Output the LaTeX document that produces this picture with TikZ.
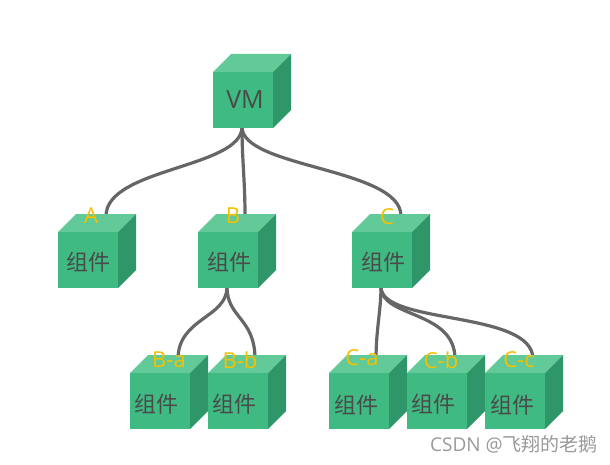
\documentclass[tikz,border=0pt]{standalone}
\usepackage{fontspec}
\setmainfont{Open Sans}
\newfontfamily\cjk{Noto Sans CJK SC}
\definecolor{cfront}{HTML}{3FBA83}
\definecolor{ctop}{HTML}{62C998}
\definecolor{cside}{HTML}{2E9668}
\definecolor{clabel}{HTML}{F5C000}
\definecolor{ctext}{HTML}{4A4A4A}
\definecolor{cline}{HTML}{666666}
\tikzset{
  link/.style={draw=cline, line width=3.2pt},
  cubelabel/.style={text=clabel, font=\fontsize{22}{22}\selectfont, inner sep=0pt},
  cubetext/.style={text=ctext, font=\cjk\fontsize{22}{22}\selectfont, inner sep=0pt},
  vmtext/.style={text=ctext, font=\fontsize{25}{25}\selectfont, inner sep=0pt}
}
% #1 name, #2 x, #3 y (front top-left)
\newcommand{\mycube}[3]{%
  \fill[ctop] (#2,-#3) -- ++(18,18) -- ++(60,0) -- ++(-18,-18) -- cycle;
  \fill[cside] (#2+60,-#3) -- ++(18,18) -- ++(0,-56) -- ++(-18,-18) -- cycle;
  \fill[cfront] (#2,-#3) rectangle ++(60,-56);
  \coordinate (#1) at (#2+30,-#3-28);
}
\begin{document}
\begin{tikzpicture}[x=1pt,y=1pt]
\useasboundingbox (0,0) rectangle (610,-465);
\fill[white] (0,0) rectangle (610,-465);
% anchor coordinates for connectors
\coordinate (vmb) at (242,-127);
\coordinate (at) at (106,-216);
\coordinate (bt) at (245,-216);
\coordinate (ct) at (401,-216);
\coordinate (bb) at (227,-287);
\coordinate (cb) at (381,-287);
\coordinate (bat) at (178,-359);
\coordinate (bbt) at (255,-359);
\coordinate (cat) at (376,-359);
\coordinate (cbt) at (455,-359);
\coordinate (cct) at (533,-359);
% connectors
\draw[link] (vmb) .. controls (242,-168) and (106,-168) .. (at);
\draw[link] (vmb) .. controls (242,-160) and (245,-180) .. (bt);
\draw[link] (vmb) .. controls (242,-168) and (401,-168) .. (ct);
\draw[link] (bb) .. controls (227,-318) and (178,-318) .. (bat);
\draw[link] (bb) .. controls (227,-318) and (255,-318) .. (bbt);
\draw[link] (cb) .. controls (381,-310) and (376,-330) .. (cat);
\draw[link] (cb) .. controls (381,-318) and (455,-310) .. (cbt);
\draw[link] (cb) .. controls (381,-325) and (533,-310) .. (cct);
% cubes
\mycube{vm}{213}{72}
\mycube{ca}{58}{232}
\mycube{cbx}{198}{232}
\mycube{ccx}{352}{232}
\mycube{cba}{130}{373}
\mycube{cbb}{208}{373}
\mycube{cca}{329}{373}
\mycube{ccb}{407}{373}
\mycube{ccc}{485}{373}
% texts
\node[vmtext] (tvm) at (245,-100) {VM};
\node[cubetext] (t1) at (88,-262) {组件};
\node[cubetext] (t2) at (229,-262) {组件};
\node[cubetext] (t3) at (383,-262) {组件};
\node[cubetext] (t4) at (156,-404) {组件};
\node[cubetext] (t5) at (234,-404) {组件};
\node[cubetext] (t6) at (356,-405) {组件};
\node[cubetext] (t7) at (433,-404) {组件};
\node[cubetext] (t8) at (512,-405) {组件};
% labels
\node[cubelabel] (la) at (91,-216) {A};
\node[cubelabel] (lb) at (233,-216) {B};
\node[cubelabel] (lc) at (387,-217) {C};
\node[cubelabel] (lba) at (169,-360) {B-a};
\node[cubelabel] (lbb) at (240,-360) {B-b};
\node[cubelabel] (lca) at (362,-358) {C-a};
\node[cubelabel] (lcb) at (441,-360) {C-b};
\node[cubelabel] (lcc) at (519,-360) {C-c};
% watermark
\node[text=black!40, font=\fontsize{19}{19}\selectfont, inner sep=0pt, anchor=east] (wm) at (598,-444) {CSDN @{\cjk 飞翔的老鹅}};
\end{tikzpicture}
\end{document}
